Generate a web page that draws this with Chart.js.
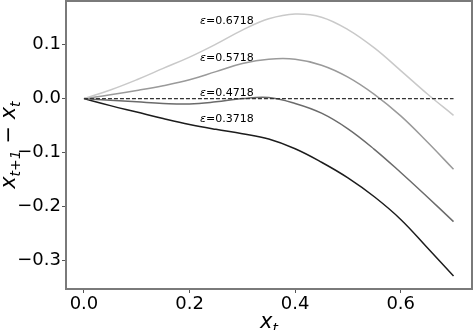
<!DOCTYPE html>
<html>
<head>
<meta charset="utf-8">
<script src="https://cdn.jsdelivr.net/npm/chart.js@4/dist/chart.umd.min.js"></script>
<style>
  html, body { margin: 0; padding: 0; background: #fff; }
  #wrap { width: 474px; height: 330px; }
</style>
</head>
<body>
<div id="wrap"><canvas id="chart" width="474" height="330"></canvas></div>
<script>
let xs = [0, 0.05, 0.1, 0.15, 0.2, 0.25, 0.3, 0.35, 0.4, 0.45, 0.5, 0.55, 0.6, 0.65, 0.7];

// x_{t+1} - x_t for each epsilon
let eps_labels = ['0.6718', '0.5718', '0.4718', '0.3718'];
let eps_6718 = [0, 0.016, 0.035, 0.056, 0.077, 0.101, 0.127, 0.148, 0.157, 0.151, 0.128, 0.094, 0.052, 0.009, -0.031];
let eps_5718 = [0, 0.007, 0.015, 0.024, 0.035, 0.050, 0.065, 0.073, 0.073, 0.062, 0.040, 0.008, -0.032, -0.080, -0.131];
let eps_4718 = [0, -0.003, -0.006, -0.009, -0.010, -0.006, 0.000, 0.002, -0.009, -0.027, -0.056, -0.094, -0.137, -0.182, -0.228];
let eps_3718 = [0, -0.013, -0.025, -0.037, -0.048, -0.057, -0.065, -0.075, -0.093, -0.118, -0.147, -0.182, -0.224, -0.276, -0.329];

let zero_x = [0, 0.7];
let zero_y = [0, 0];

let x_ticks = [0, 0.2, 0.4, 0.6];
let y_ticks = [-0.3, -0.2, -0.1, 0, 0.1];

let series = [eps_6718, eps_5718, eps_4718, eps_3718];
let colors = ['#c9c9c9', '#9a9a9a', '#6b6b6b', '#1c1c1c'];

// where the epsilon texts sit (data coords)
let note_x = 0.22;
let note_y = [0.143, 0.075, 0.011, -0.038];

let pts = (xv, yv) => xv.map((x, i) => ({x: x, y: yv[i]}));
let fmt = v => (v < 0 ? '\u2212' : '') + Math.abs(v).toFixed(1);

let datasets = series.map((s, i) => ({
    label: 'eps=' + eps_labels[i],
    data: pts(xs, s),
    borderColor: colors[i],
    borderWidth: 1.5,
    pointRadius: 0,
    tension: 0.4,
    fill: false,
    order: 2,
}));
datasets.push({
    label: 'zero',
    data: pts(zero_x, zero_y),
    borderColor: '#333',
    borderWidth: 1.2,
    borderDash: [4, 2],
    pointRadius: 0,
    fill: false,
    order: 1,
});

let extras = {
    id: 'extras',
    afterDraw(chart) {
        let ctx = chart.ctx;
        let a = chart.chartArea;
        let sx = chart.scales.x, sy = chart.scales.y;
        ctx.save();
        // frame
        ctx.strokeStyle = '#7a7a7a';
        ctx.lineWidth = 2;
        ctx.strokeRect(a.left, a.top, a.right - a.left, a.bottom - a.top);

        // epsilon notes
        ctx.fillStyle = '#000';
        ctx.textBaseline = 'middle';
        ctx.textAlign = 'left';
        eps_labels.forEach((lab, i) => {
            let px = sx.getPixelForValue(note_x);
            let py = sy.getPixelForValue(note_y[i]);
            ctx.font = 'italic 11px "DejaVu Sans"';
            ctx.fillText('\u03b5', px, py);
            let w = ctx.measureText('\u03b5').width;
            ctx.font = '11px "DejaVu Sans"';
            ctx.fillText('=' + lab, px + w, py);
        });

        // axis titles with subscripts
        let sub = (x, y, main, s) => {
            ctx.font = 'italic 21px "DejaVu Sans"';
            ctx.fillText(main, x, y);
            let w = ctx.measureText(main).width;
            ctx.font = 'italic 14px "DejaVu Sans"';
            ctx.fillText(s, x + w, y + 5);
            return w + ctx.measureText(s).width;
        };
        ctx.textBaseline = 'alphabetic';
        // x label
        ctx.font = 'italic 21px "DejaVu Sans"';
        let wx = ctx.measureText('x').width;
        ctx.font = 'italic 14px "DejaVu Sans"';
        wx += ctx.measureText('t').width;
        sub((a.left + a.right) / 2 - wx / 2, 328, 'x', 't');

        // y label, rotated
        ctx.translate(15, 145);
        ctx.rotate(-Math.PI / 2);
        ctx.font = 'italic 21px "DejaVu Sans"';
        let w1 = ctx.measureText('x').width;
        ctx.font = 'italic 14px "DejaVu Sans"';
        let w2 = ctx.measureText('t+1').width;
        ctx.font = '21px "DejaVu Sans"';
        let w3 = ctx.measureText(' \u2212 ').width;
        let total = w1 + w2 + w3 + w1 + ctx.measureText('t').width * 0.7;
        let cx = -total / 2;
        cx += sub(cx, 0, 'x', 't+1');
        ctx.font = '21px "DejaVu Sans"';
        ctx.fillText(' \u2212 ', cx, 0);
        cx += w3;
        sub(cx, 0, 'x', 't');
        ctx.restore();
    }
};

let ctx = document.getElementById('chart').getContext('2d');
let chart = new Chart(ctx, {
    type: 'line',
    data: { datasets: datasets },
    options: {
        responsive: false,
        animation: false,
        layout: { padding: { top: 1, right: 2, left: 0, bottom: 0 } },
        plugins: { legend: { display: false }, tooltip: { enabled: false } },
        scales: {
            x: {
                type: 'linear',
                min: -0.034,
                max: 0.735,
                afterBuildTicks: s => { s.ticks = x_ticks.map(v => ({value: v})); },
                afterFit: s => { s.height = 41; s.paddingLeft = 0; s.paddingRight = 0; },
                grid: { drawOnChartArea: false, drawTicks: true, tickLength: 4, color: '#555' },
                border: { display: false },
                ticks: {
                    color: '#000',
                    padding: 1,
                    maxRotation: 0,
                    font: { family: 'DejaVu Sans', size: 18 },
                    callback: v => fmt(v),
                },
            },
            y: {
                type: 'linear',
                min: -0.353,
                max: 0.181,
                afterBuildTicks: s => { s.ticks = y_ticks.map(v => ({value: v})); },
                afterFit: s => { s.width = 66; s.paddingTop = 0; s.paddingBottom = 0; },
                grid: { drawOnChartArea: false, drawTicks: true, tickLength: 4, color: '#555' },
                border: { display: false },
                ticks: {
                    color: '#000',
                    padding: 1,
                    font: { family: 'DejaVu Sans', size: 18 },
                    callback: v => fmt(v),
                },
            },
        },
    },
    plugins: [extras],
});
</script>
</body>
</html>
